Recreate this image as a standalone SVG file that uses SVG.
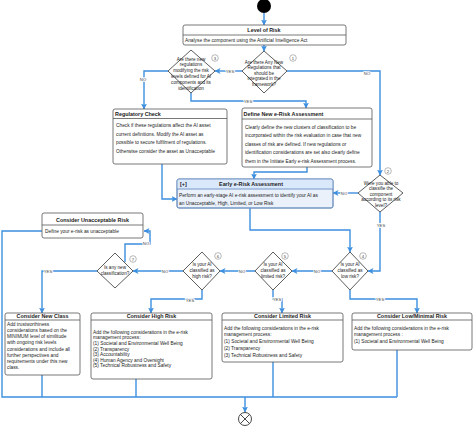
<svg xmlns="http://www.w3.org/2000/svg" width="474" height="427" viewBox="0 0 474 427">
<defs>
<marker id="arr" markerUnits="userSpaceOnUse" markerWidth="6" markerHeight="6" viewBox="0 0 6 6" refX="5.5" refY="3" orient="auto">
<path d="M0,0 L6,3 L0,6 L1.5,3 Z" fill="#3d8fe0"/>
</marker>
<style>
text{font-family:"Liberation Sans",Arial,Helvetica,sans-serif;fill:#222}
.box{fill:#fff;stroke:#555;stroke-width:0.8}
.div{stroke:#555;stroke-width:0.8}
.t{font-size:5.4px;font-weight:bold}
.c{font-size:4.8px}
.d{fill:#fff;stroke:#333;stroke-width:0.8}
.dt{font-size:4.6px;text-anchor:middle}
.num circle{fill:#fff;stroke:#888;stroke-width:0.6}
.num text{font-size:4.2px;text-anchor:middle;fill:#444}
.e{fill:none;stroke:#3d8fe0;stroke-width:1.4}
.ea{fill:none;stroke:#3d8fe0;stroke-width:1.4;marker-end:url(#arr)}
.lb{font-size:4.2px;text-anchor:middle;fill:#444;stroke:#fff;stroke-width:1.6;paint-order:stroke}
.mid{text-anchor:middle}
</style>
</defs>
<rect width="474" height="427" fill="#fff"/>

<g id="connectors">
<path class="ea" d="M264,13 L264,25"/>
<path class="ea" d="M264,45 L264,51"/>
<path class="ea" d="M242,71 L215,71"/>
<path class="ea" d="M287,71 L380,71 L380,175"/>
<path class="ea" d="M168,71 L144,71 L144,109"/>
<path class="ea" d="M191,93 L191,101 L306,101 L306,108"/>
<path class="ea" d="M162,164 L162,199 L177,199"/>
<path class="ea" d="M307,167 L307,172 L254,172 L254,179"/>
<path class="ea" d="M358,193 L333,193"/>
<path class="ea" d="M250,208 L250,230 L350,230 L350,252"/>
<path class="ea" d="M380,212 L380,271 L368,271"/>
<path class="ea" d="M332,271 L292,271"/>
<path class="ea" d="M350,290 L350,299 L417,299 L417,313"/>
<path class="ea" d="M255,271 L220,271"/>
<path class="ea" d="M273,290 L273,299 L282,299 L282,313"/>
<path class="ea" d="M183,271 L133,271"/>
<path class="ea" d="M202,290 L202,299 L151,299 L151,313"/>
<path class="ea" d="M97,271 L42,271 L42,313"/>
<path class="ea" d="M125,262 L125,244 L150,244 L150,231 L144,231"/>
<path class="e" d="M42,231 L2,231 L2,397 L397,397"/>
<path class="e" d="M42,375 L42,397"/>
<path class="e" d="M136,379 L136,397"/>
<path class="e" d="M273,362 L273,397"/>
<path class="e" d="M397,350 L397,397"/>
<path class="ea" d="M245,397 L245,412"/>
<text class="lb" x="230" y="72.5">YES</text>
<text class="lb" x="367" y="74.5">NO</text>
<text class="lb" x="143" y="80.5">NO</text>
<text class="lb" x="248" y="102.5">YES</text>
<text class="lb" x="344" y="194.5">NO</text>
<text class="lb" x="381" y="226.5">YES</text>
<text class="lb" x="317" y="272.5">NO</text>
<text class="lb" x="380" y="301">YES</text>
<text class="lb" x="242" y="272.5">NO</text>
<text class="lb" x="277" y="300.5">YES</text>
<text class="lb" x="165" y="272.5">NO</text>
<text class="lb" x="190" y="302">YES</text>
<text class="lb" x="48" y="272.5">YES</text>
<text class="lb" x="146" y="245">NO</text>
</g>

<g id="start"><circle cx="264" cy="6" r="7" fill="#000"/></g>

<g id="level-of-risk">
<rect class="box" x="183" y="25" width="163" height="20" rx="2"/>
<line class="div" x1="183" y1="35" x2="346" y2="35"/>
<text class="t mid" x="264" y="32.2">Level of Risk</text>
<text class="c" x="185" y="42.3">Analyse the component using the Artificial Intelligence Act</text>
</g>

<g id="d1">
<polygon class="d" points="264,51 287,71 264,93 242,71"/>
<text class="dt" x="264" y="63.6">Are there Any New</text>
<text class="dt" x="264" y="69.1">Regulations that</text>
<text class="dt" x="264" y="74.6">should be</text>
<text class="dt" x="264" y="80.1">integrated in the</text>
<text class="dt" x="264" y="85.6">framework?</text>
<g class="num"><circle cx="293" cy="58" r="3.3"/><text x="293" y="59.5">1</text></g>
</g>

<g id="d3">
<polygon class="d" points="191,50 215,71 191,93 168,71"/>
<text class="dt" x="191" y="60.6">Are there new</text>
<text class="dt" x="191" y="66.4">regulations</text>
<text class="dt" x="191" y="72.2">modifying the risk</text>
<text class="dt" x="191" y="78">levels defined for AI</text>
<text class="dt" x="191" y="83.8">components and its</text>
<text class="dt" x="191" y="89.6">identification</text>
<g class="num"><circle cx="215" cy="58" r="3.3"/><text x="215" y="59.5">3</text></g>
</g>

<g id="regulatory-check">
<rect class="box" x="113" y="109" width="114" height="55" rx="2"/>
<line class="div" x1="113" y1="118.5" x2="227" y2="118.5"/>
<text class="t" x="115" y="116">Regulatory Check</text>
<text class="c" x="116" y="127">Check if these regulations affect the AI asset</text>
<text class="c" x="116" y="135.5">current definitions. Modify the AI asset as</text>
<text class="c" x="116" y="144">possible to secure fulfilment of regulations.</text>
<text class="c" x="116" y="152.5">Otherwise consider the asset as Unacceptable</text>
</g>

<g id="define-new">
<rect class="box" x="242" y="108" width="130" height="59" rx="2"/>
<line class="div" x1="242" y1="119" x2="372" y2="119"/>
<text class="t" x="243.5" y="116">Define New e-Risk Assessment</text>
<text class="c" x="245" y="128.5">Clearly define the new clusters of classification to be</text>
<text class="c" x="245" y="137">incorporated within the risk evaluation in case that new</text>
<text class="c" x="245" y="145.5">classes of risk are defined. If new regulations or</text>
<text class="c" x="245" y="154">identification considerations are set also clearly define</text>
<text class="c" x="245" y="162.5">them in the Initiate Early e-risk Assessment process.</text>
</g>

<g id="early">
<rect x="177" y="179" width="156" height="29" rx="2" fill="#eaf1fb" stroke="#6c8ebf" stroke-width="0.9"/>
<path d="M177,189 L177,181 Q177,179 179,179 L331,179 Q333,179 333,181 L333,189 Z" fill="#dae8fc"/>
<line x1="177" y1="189" x2="333" y2="189" stroke="#6c8ebf" stroke-width="0.9"/>
<rect x="177" y="179" width="156" height="29" rx="2" fill="none" stroke="#6c8ebf" stroke-width="0.9"/>
<text class="t" x="180" y="186.3">[+]</text>
<text class="t mid" x="251" y="186.3">Early e-Risk Assessment</text>
<text class="c" x="179" y="197.4">Perform an early-stage AI e-risk assessment to identify your AI as</text>
<text class="c" x="179" y="205">an Unacceptable, High, Limited, or Low Risk</text>
</g>

<g id="d2">
<polygon class="d" points="380,175 403,193 380,212 358,193"/>
<text class="dt" x="381" y="184.6">Were you able to</text>
<text class="dt" x="381" y="190.1">classifie the</text>
<text class="dt" x="381" y="195.6">component</text>
<text class="dt" x="381" y="201.1">according to its risk</text>
<text class="dt" x="381" y="206.6">level?</text>
<g class="num"><circle cx="388" cy="171" r="3.3"/><text x="388" y="172.5">2</text></g>
</g>

<g id="d4">
<polygon class="d" points="350,252 368,271 350,290 332,271"/>
<text class="dt" x="350" y="266">Is your AI</text>
<text class="dt" x="350" y="272">classified as</text>
<text class="dt" x="350" y="278">low risk?</text>
<g class="num"><circle cx="363" cy="256" r="3.3"/><text x="363" y="257.5">4</text></g>
</g>

<g id="d5">
<polygon class="d" points="273,252 292,271 273,290 255,271"/>
<text class="dt" x="273" y="266">Is your AI</text>
<text class="dt" x="273" y="272">classified as</text>
<text class="dt" x="273" y="278">limited risk?</text>
<g class="num"><circle cx="285" cy="256" r="3.3"/><text x="285" y="257.5">5</text></g>
</g>

<g id="d6">
<polygon class="d" points="202,252 220,271 202,290 183,271"/>
<text class="dt" x="202" y="266">Is your AI</text>
<text class="dt" x="202" y="272">classified as</text>
<text class="dt" x="202" y="278">high risk?</text>
<g class="num"><circle cx="218" cy="256" r="3.3"/><text x="218" y="257.5">6</text></g>
</g>

<g id="d7">
<polygon class="d" points="115,253 133,271 115,288 97,271"/>
<text class="dt" x="115" y="269">Is any new</text>
<text class="dt" x="115" y="275">classification?</text>
<g class="num"><circle cx="133" cy="259" r="3.3"/><text x="133" y="260.5">7</text></g>
</g>

<g id="unacceptable">
<rect class="box" x="42" y="213" width="101" height="25" rx="2"/>
<line class="div" x1="42" y1="225" x2="143" y2="225"/>
<text class="t mid" x="92.5" y="221.5">Consider Unacceptable Risk</text>
<text class="c" x="45" y="233.3">Define your e-risk as unacceptable</text>
</g>

<g id="new-class">
<rect class="box" x="5" y="313" width="75" height="62" rx="2"/>
<line class="div" x1="5" y1="320" x2="80" y2="320"/>
<text class="t mid" x="42.5" y="318.3">Consider New Class</text>
<text class="c" x="7" y="325.7">Add trustworthiness</text>
<text class="c" x="7" y="331.9">considerations based on the</text>
<text class="c" x="7" y="338.1">MINIMUM level of similitude</text>
<text class="c" x="7" y="344.3">with ongoing risk levels</text>
<text class="c" x="7" y="350.5">considerations and include all</text>
<text class="c" x="7" y="356.7">further perspectives and</text>
<text class="c" x="7" y="362.9">requirements under this new</text>
<text class="c" x="7" y="369.1">class.</text>
</g>

<g id="high-risk">
<rect class="box" x="91" y="313" width="121" height="66" rx="2"/>
<line class="div" x1="91" y1="320" x2="212" y2="320"/>
<text class="t mid" x="151.5" y="318.3">Consider High Risk</text>
<text class="c" x="93" y="333.7">Add the following considerations in the e-risk</text>
<text class="c" x="93" y="339.3">management process:</text>
<text class="c" x="93" y="344.9">(1) Societal and Environmental Well Being</text>
<text class="c" x="93" y="350.5">(2) Transparency</text>
<text class="c" x="93" y="356.1">(3) Accountability</text>
<text class="c" x="93" y="361.7">(4) Human Agency and Oversight</text>
<text class="c" x="93" y="367.3">(5) Technical Robustness and Safety</text>
</g>

<g id="limited-risk">
<rect class="box" x="222" y="313" width="121" height="49" rx="2"/>
<line class="div" x1="222" y1="320" x2="343" y2="320"/>
<text class="t mid" x="282.5" y="318.3">Consider Limited Risk</text>
<text class="c" x="224" y="329.7">Add the following considerations in the e-risk</text>
<text class="c" x="224" y="336.4">management process:</text>
<text class="c" x="224" y="343.1">(1) Societal and Environmental Well Being</text>
<text class="c" x="224" y="349.8">(2) Transparency</text>
<text class="c" x="224" y="356.5">(3) Technical Robustness and Safety</text>
</g>

<g id="low-risk">
<rect class="box" x="352" y="313" width="120" height="37" rx="2"/>
<line class="div" x1="352" y1="320" x2="472" y2="320"/>
<text class="t mid" x="412" y="318.3">Consider Low/Minimal Risk</text>
<text class="c" x="354" y="329.7">Add the following considerations in the e-risk</text>
<text class="c" x="354" y="336.4">management process :</text>
<text class="c" x="354" y="343.1">(1) Societal and Environmental Well Being</text>
</g>

<g id="end">
<circle cx="245" cy="419" r="6.5" fill="#fff" stroke="#333" stroke-width="0.9"/>
<path d="M240.4,414.4 L249.6,423.6 M249.6,414.4 L240.4,423.6" stroke="#333" stroke-width="0.9"/>
</g>
</svg>
